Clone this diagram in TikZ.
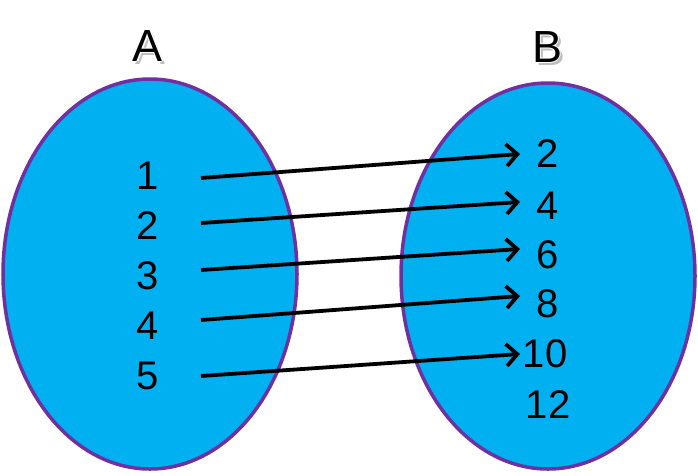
\documentclass[tikz,border=0pt]{standalone}
\usepackage{fontspec}
\setmainfont{Liberation Sans}
\usetikzlibrary{arrows.meta}
\definecolor{setfill}{HTML}{00B0F0}
\definecolor{setline}{HTML}{7030A0}
\tikzset{
  setshape/.style={fill=setfill,draw=setline,line width=3.5pt},
  num/.style={inner sep=0pt,font=\fontsize{40}{40}\selectfont},
  title/.style={inner sep=0pt,font=\fontsize{45}{45}\selectfont},
  shadowtxt/.style={title,text=black!25},
  outl/.style={title,text=white},
  arr/.style={line width=3.8pt,-{Straight Barb[length=11pt,width=22pt,line width=3.8pt]}}
}
\begin{document}
\begin{tikzpicture}[x=1pt,y=-1pt]
\useasboundingbox (0,0) rectangle (698,475);
\fill[white] (0,0) rectangle (698,475);
\draw[setshape] (150,274) ellipse [x radius=147,y radius=195];
\draw[setshape] (548,276) ellipse [x radius=147,y radius=193];
% titles with soft shadow and white edge
\node[shadowtxt] (Ash) at (151,49) {A};
\node[shadowtxt] (Bsh) at (550,50) {B};
\foreach \dx/\dy in {-1.2/0,1.2/0,0/-1.2,0/1.2}{
  \node[outl] at (148+\dx,46+\dy) {A};
  \node[outl] at (547+\dx,47+\dy) {B};
}
\node[title] (A) at (148,46) {A};
\node[title] (B) at (547,47) {B};
% left numbers
\node[num] (a1) at (148,176) {1};
\node[num] (a2) at (148,226) {2};
\node[num] (a3) at (148,276) {3};
\node[num] (a4) at (148,326) {4};
\node[num] (a5) at (148,376) {5};
% right numbers
\node[num] (b1) at (548,154) {2};
\node[num] (b2) at (548,206) {4};
\node[num] (b3) at (548,255) {6};
\node[num] (b4) at (548,304) {8};
\node[num] (b5) at (545,354) {10};
\node[num] (b6) at (548,405) {12};
% arrows
\coordinate (sx) at (201,0);
\coordinate (ex) at (520,0);
\draw[arr] ([yshift=-2pt]a1.east -| sx) -- (b1.west -| ex);
\draw[arr] ([yshift=3pt]a2.east -| sx) -- ([yshift=4pt]b2.west -| ex);
\draw[arr] ([yshift=6pt]a3.east -| sx) -- ([yshift=6pt]b3.west -| ex);
\draw[arr] ([yshift=6pt]a4.east -| sx) -- ([yshift=8pt]b4.west -| ex);
\draw[arr] (a5.east -| sx) -- (b5.west -| ex);
\end{tikzpicture}
\end{document}
